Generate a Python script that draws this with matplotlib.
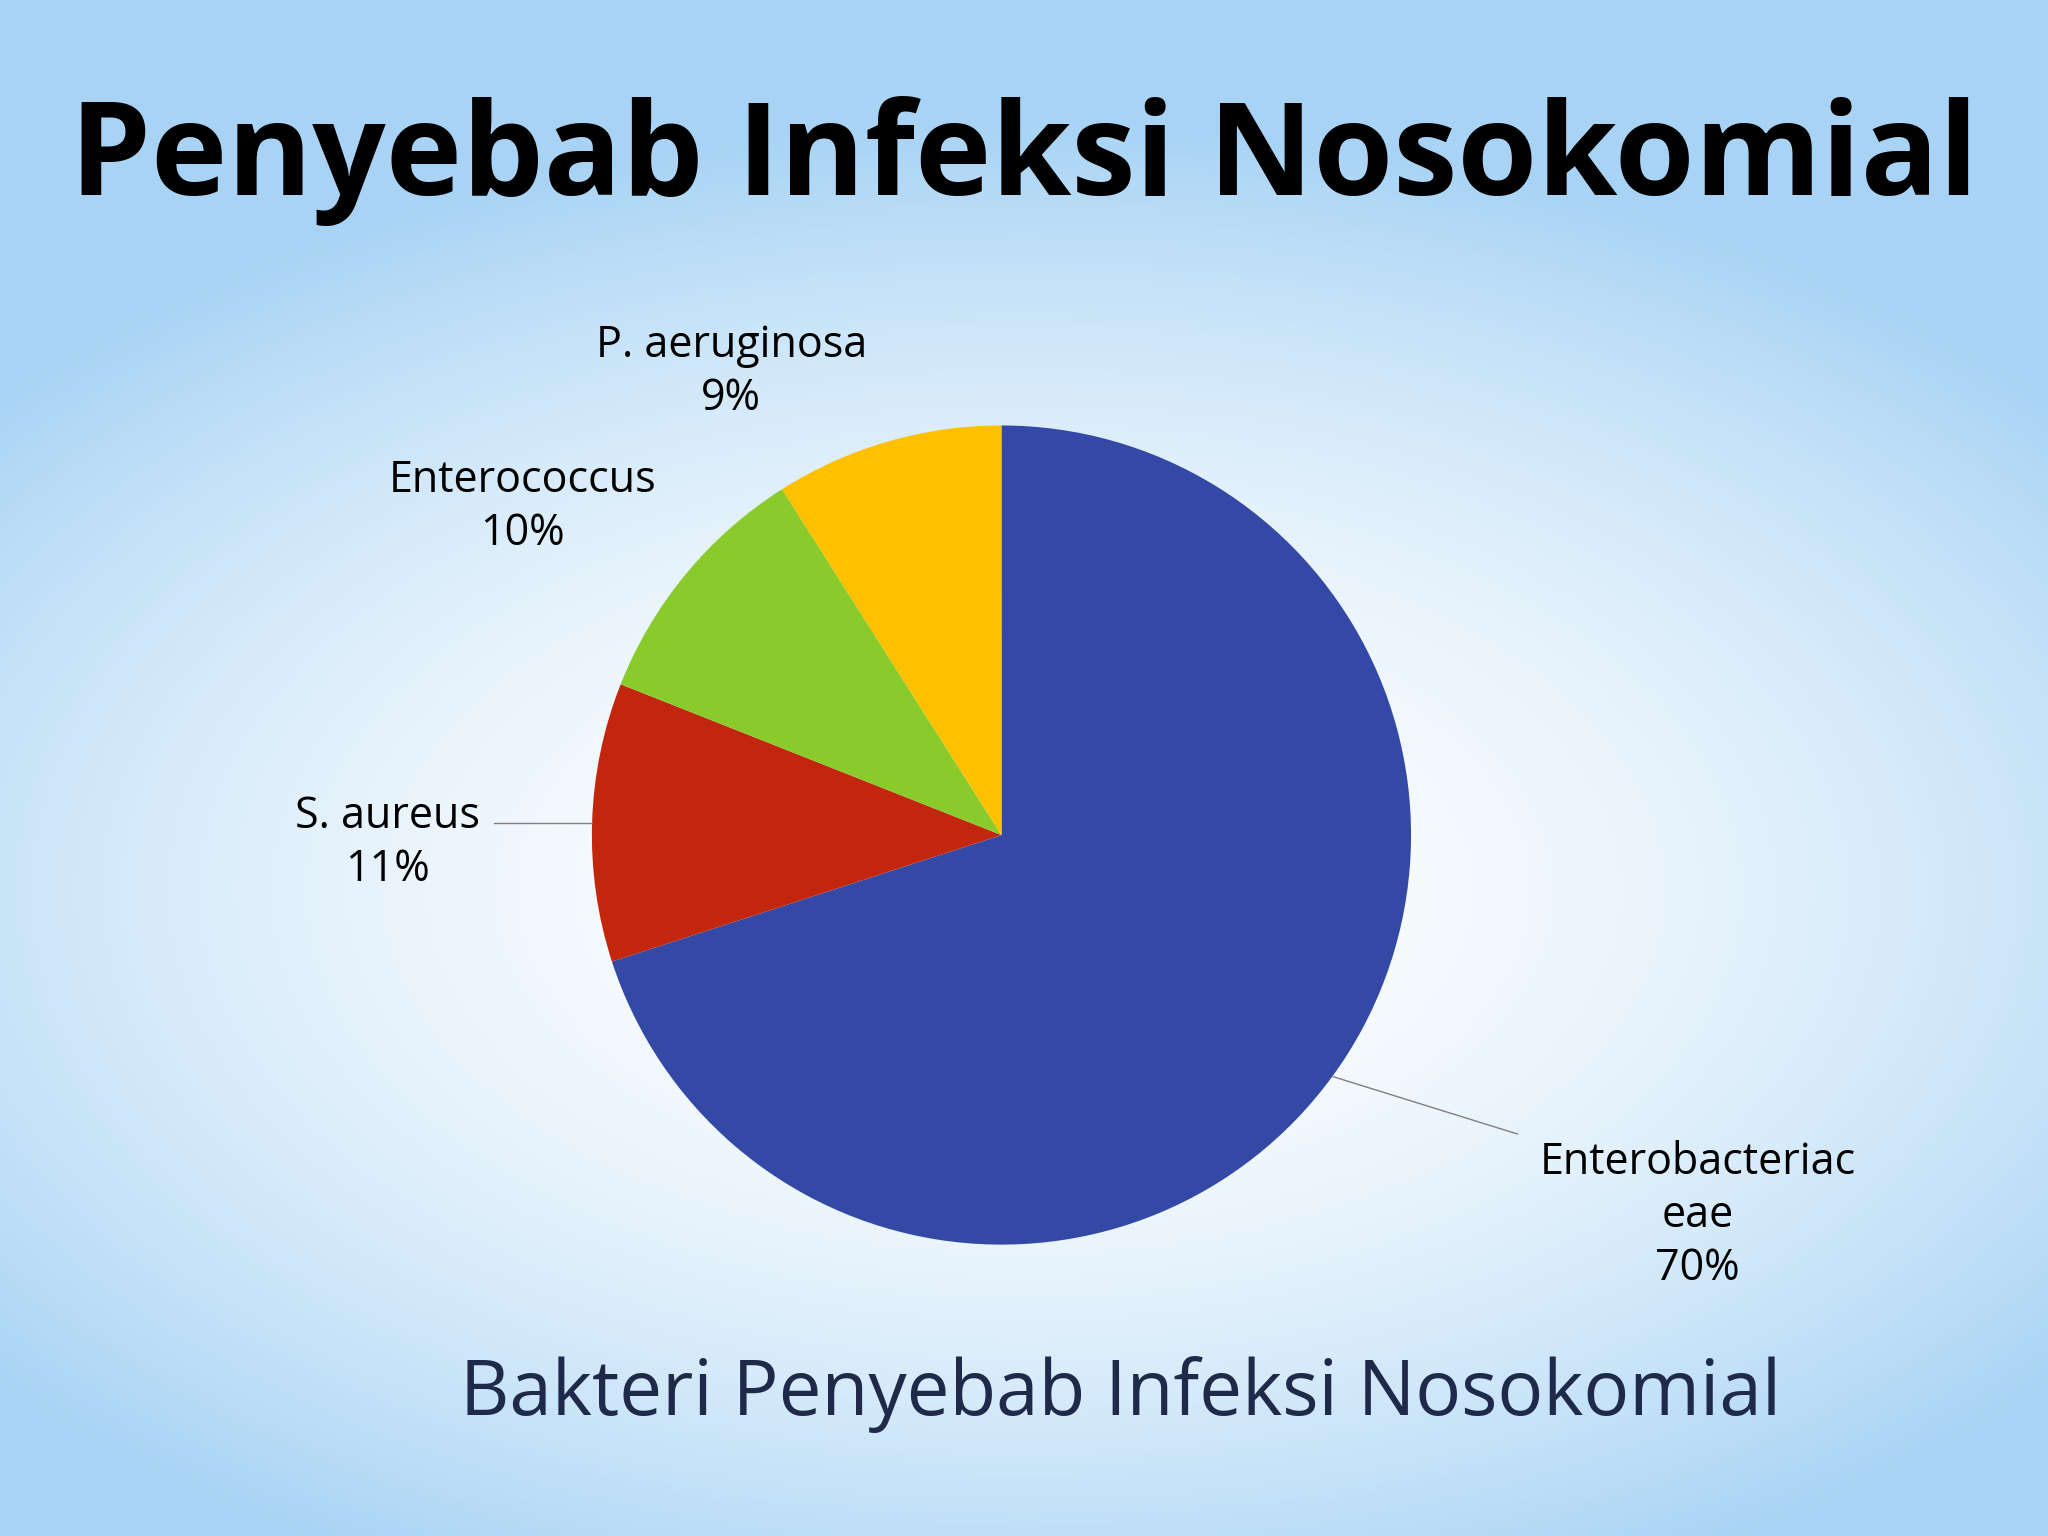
import numpy as np
import matplotlib.pyplot as plt

plt.rcParams['font.family'] = ['Open Sans', 'DejaVu Sans']

labels = ['Enterobacteriac\neae', 'S. aureus', 'Enterococcus', 'P. aeruginosa']
values = [70, 11, 10, 9]
colors = ['#3449A6', '#C2260C', '#8ACB2C', '#FFC000']

fig = plt.figure(figsize=(20.48, 15.36), dpi=100)

# background: light blue with a white elliptical glow in the middle
bg = fig.add_axes([0, 0, 1, 1])
yy, xx = np.mgrid[0:1:400j, 0:1:500j]
r = np.sqrt(((xx - 0.5) / 0.66) ** 2 + ((yy - 0.58) / 0.50) ** 2)
t = np.clip(r, 0, 1) ** 1.8
outer = np.array([0.66, 0.83, 0.96])
inner = np.array([1.0, 1.0, 1.0])
img = inner[None, None, :] * (1 - t[..., None]) + outer[None, None, :] * t[..., None]
bg.imshow(img, extent=[0, 1, 0, 1], aspect='auto', origin='upper')
bg.axis('off')

fig.text(0.5, 0.895, 'Penyebab Infeksi Nosokomial', ha='center', va='center',
         fontsize=93, fontweight='bold', color='black')
fig.text(0.547, 0.092, 'Bakteri Penyebab Infeksi Nosokomial', ha='center', va='center',
         fontsize=55, color='#1F2A4A')

ax = fig.add_axes([0.289, 0.1897, 0.4, 0.5333])
ax.pie(values, colors=colors, startangle=90, counterclock=False,
       wedgeprops={'linewidth': 0})
ax.set_xlim(-1, 1)
ax.set_ylim(-1, 1)

pos = [(1.70, -0.93), (-1.50, -0.02), (-1.17, 0.80), (-0.66, 1.13)]
for lab, v, (x, y) in zip(labels, values, pos):
    ax.text(x, y, f'{lab}\n{v}%', ha='center', va='center', fontsize=31,
            color='black', clip_on=False, linespacing=1.25)

ax.plot([-1.24, -1.0], [0.03, 0.03], color='#808080', lw=1, clip_on=False)
ax.plot([0.81, 1.26], [-0.59, -0.73], color='#808080', lw=1, clip_on=False)

fig.savefig('out.png', dpi=100)
